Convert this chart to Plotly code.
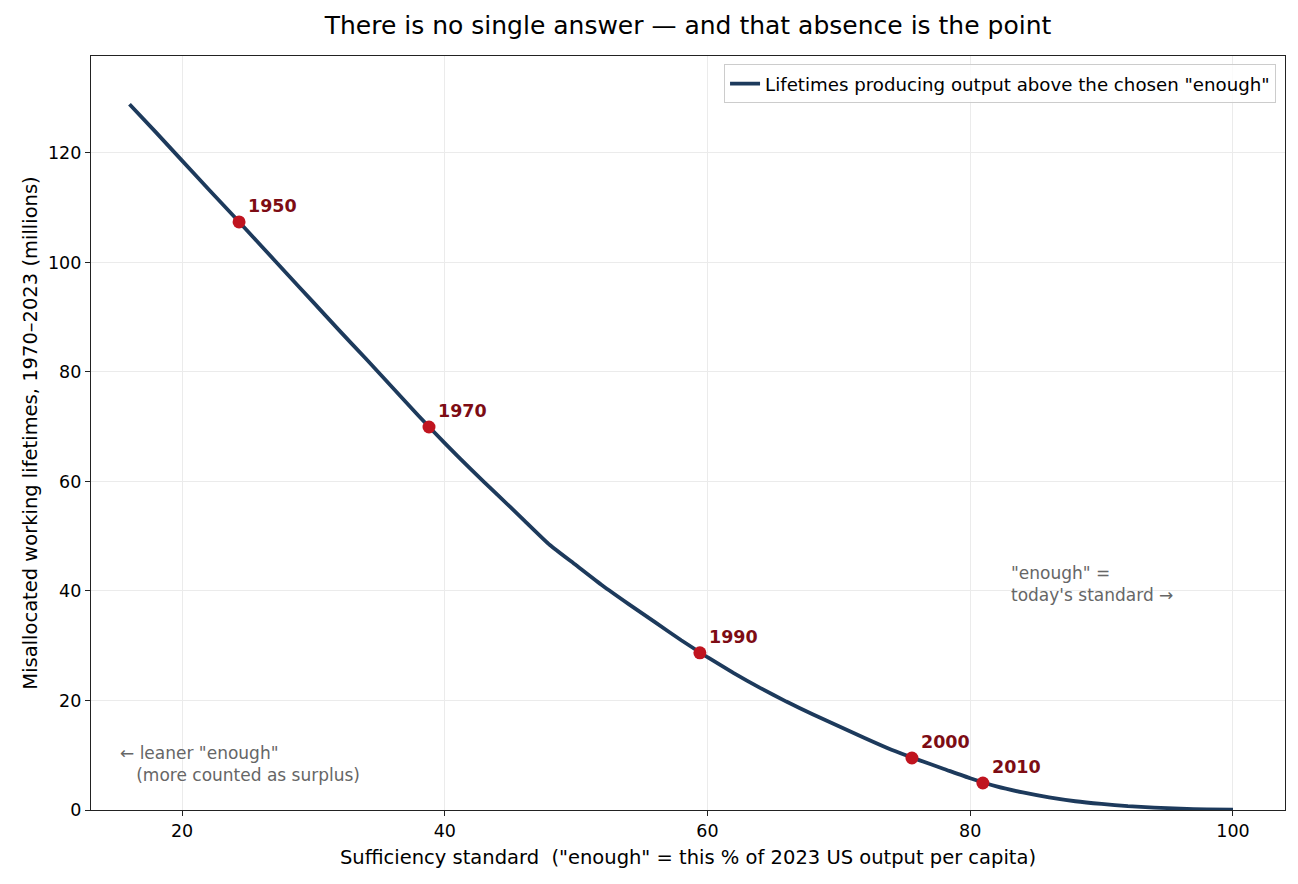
import plotly.graph_objects as go

# Curve
standard_pct = [16, 18, 20, 22, 24, 26, 28, 30, 32, 34, 36, 38, 40, 42, 44, 46, 48,
                50, 52, 54, 56, 58, 60, 62, 64, 66, 68, 70, 72, 74, 76, 78, 80,
                82, 84, 86, 88, 90, 92, 94, 96, 98, 100]
lifetimes_m = [128.9, 123.8, 118.6, 113.4, 108.3, 103.1, 97.9, 92.7, 87.5, 82.4, 77.2, 72.0, 67.0,
               62.2, 57.6, 53.0, 48.4, 44.7, 41.0, 37.6, 34.3, 31.0, 27.9, 25.0, 22.3, 19.8,
               17.5, 15.3, 13.1, 11.0, 9.2, 7.5, 5.8, 4.3, 3.2, 2.3, 1.6, 1.1, 0.7, 0.45, 0.25,
               0.1, 0.05]

# Marked years
years = ["1950", "1970", "1990", "2000", "2010"]
year_x = [24.34, 38.8, 59.42, 75.56, 80.96]
year_y = [107.4, 69.95, 28.7, 9.5, 4.93]

x_ticks = [20, 40, 60, 80, 100]
y_ticks = [0, 20, 40, 60, 80, 100, 120]

FONT = "DejaVu Sans"
LINE_COL = "#1d3a5c"

fig = go.Figure()
fig.add_trace(go.Scatter(
    x=standard_pct, y=lifetimes_m, mode="lines",
    line=dict(color=LINE_COL, width=3.8, shape="spline", smoothing=0.5),
    name='Lifetimes producing output above the chosen "enough"',
))
fig.add_trace(go.Scatter(
    x=year_x, y=year_y, mode="markers",
    marker=dict(color="#c0141f", size=13),
    showlegend=False, hoverinfo="skip",
))

annotations = []
for yr, xv, yv in zip(years, year_x, year_y):
    annotations.append(dict(
        x=xv, y=yv, xref="x", yref="y", text="<b>" + yr + "</b>",
        showarrow=False, xanchor="left", yanchor="bottom",
        xshift=7, yshift=4,
        font=dict(family=FONT, size=17.5, color="#7d0c14"),
    ))
annotations.append(dict(
    x=15.13, y=12.6, xref="x", yref="y",
    text='← leaner "enough"<br>\u00a0\u00a0\u00a0(more counted as surplus)',
    showarrow=False, xanchor="left", yanchor="top", align="left",
    font=dict(family=FONT, size=17, color="#666666"),
))
annotations.append(dict(
    x=82.94, y=45.5, xref="x", yref="y",
    text='"enough" =<br>today\'s standard →',
    showarrow=False, xanchor="left", yanchor="top", align="left",
    font=dict(family=FONT, size=17, color="#666666"),
))

fig.update_layout(
    width=1298, height=884, autosize=False,
    margin=dict(l=91, r=13, t=56, b=74),
    paper_bgcolor="white", plot_bgcolor="white",
    font=dict(family=FONT, size=17.5, color="black"),
    title=dict(text="There is no single answer — and that absence is the point",
               x=(91 + 1285) / 2 / 1298, xanchor="center", y=1 - 25 / 884, yanchor="middle",
               font=dict(family=FONT, size=25, color="black")),
    showlegend=True,
    legend=dict(x=0.9925, y=0.989, xanchor="right", yanchor="top",
                bgcolor="rgba(255,255,255,0.8)", bordercolor="#cccccc", borderwidth=1,
                font=dict(family=FONT, size=18.2, color="black")),
    annotations=annotations,
)
fig.update_xaxes(
    range=[13.07, 103.96], tickvals=x_ticks, ticks="outside", ticklen=5, tickwidth=1.2,
    tickcolor="#222222", showline=True, linecolor="#222222", linewidth=1.3, mirror=True,
    showgrid=True, gridcolor="#ebebeb", gridwidth=1, zeroline=False, automargin=False,
    tickfont=dict(family=FONT, size=17.5, color="black"),
    title=dict(text='Sufficiency standard  ("enough" = this % of 2023 US output per capita)',
               font=dict(family=FONT, size=19.5, color="black"), standoff=10),
)
fig.update_yaxes(
    range=[0, 137.7], tickvals=y_ticks, ticks="outside", ticklen=5, tickwidth=1.2,
    tickcolor="#222222", showline=True, linecolor="#222222", linewidth=1.3, mirror=True,
    showgrid=True, gridcolor="#ebebeb", gridwidth=1, zeroline=False, automargin=False,
    tickfont=dict(family=FONT, size=17.5, color="black"),
    title=dict(text="Misallocated working lifetimes, 1970–2023 (millions)",
               font=dict(family=FONT, size=19.5, color="black"), standoff=5),
)

fig.write_html("out.html")
